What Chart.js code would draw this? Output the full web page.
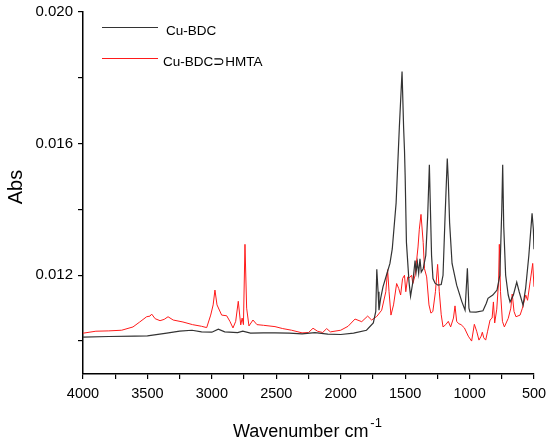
<!DOCTYPE html>
<html>
<head>
<meta charset="utf-8">
<script src="https://cdn.jsdelivr.net/npm/chart.js@4.4.1/dist/chart.umd.min.js"></script>
<style>
  html, body { margin: 0; padding: 0; background: #fff; }
  #wrap { width: 550px; height: 442px; position: relative; }
</style>
</head>
<body>
<div id="wrap"><canvas id="ftir-chart"></canvas></div>
<script>
// Cu-BDC (black)
var bdcWave = [4000, 3800, 3600, 3500, 3350, 3250, 3154, 3080, 3000, 2950, 2900, 2800, 2760, 2700, 2600, 2510,
  2400, 2300, 2200, 2100, 2000, 1900, 1800, 1747, 1728, 1720, 1710, 1703, 1690, 1672, 1645, 1618, 1600, 1570,
  1545, 1524, 1512, 1505, 1500, 1490, 1470, 1458, 1440, 1423, 1415, 1405, 1395, 1385, 1375, 1360, 1340, 1325,
  1312, 1305, 1295, 1284, 1268, 1245, 1220, 1206, 1190, 1173, 1165, 1155, 1136, 1100, 1060, 1035, 1017, 1005,
  997, 950, 896, 870, 857, 820, 787, 765, 750, 743, 735, 720, 700, 686, 660, 634, 615, 585, 565, 540, 515, 505, 500];
var bdcAbs = [0.01012, 0.01014, 0.01015, 0.01016, 0.01024, 0.01030, 0.01033, 0.01028, 0.01027, 0.01036, 0.01028,
  0.01026, 0.01030, 0.01024, 0.01025, 0.01025, 0.01024, 0.01022, 0.01026, 0.01021, 0.01020, 0.01024, 0.01033,
  0.01055, 0.01090, 0.01218, 0.01150, 0.01094, 0.01130, 0.01165, 0.01200, 0.01236, 0.01280, 0.01420, 0.01650,
  0.01819, 0.01650, 0.01579, 0.01503, 0.01300, 0.01180, 0.01136, 0.01180, 0.01245, 0.01210, 0.01240, 0.01206,
  0.01250, 0.01210, 0.01220, 0.01260, 0.01380, 0.01536, 0.01420, 0.01260, 0.01190, 0.01176, 0.01170, 0.01172,
  0.01200, 0.01380, 0.01555, 0.01488, 0.01360, 0.01236, 0.01170, 0.01120, 0.01094, 0.01221, 0.01100, 0.01089,
  0.01088, 0.01092, 0.01115, 0.01130, 0.01140, 0.01155, 0.01200, 0.01400, 0.01536, 0.01350, 0.01200, 0.01140,
  0.01119, 0.01140, 0.01179, 0.01150, 0.01109, 0.01160, 0.01260, 0.01388, 0.01340, 0.01279];

// Cu-BDC⊃HMTA (red)
var hmtaWave = [4000, 3900, 3800, 3700, 3612, 3560, 3506, 3480, 3467, 3440, 3402, 3370, 3340, 3300, 3224, 3150,
  3080, 3040, 3009, 2990, 2976, 2960, 2924, 2885, 2860, 2836, 2815, 2795, 2776, 2765, 2755, 2743, 2730, 2712,
  2681, 2650, 2600, 2510, 2450, 2381, 2300, 2250, 2215, 2180, 2140, 2109, 2080, 2000, 1943, 1889, 1837, 1791,
  1760, 1720, 1682, 1650, 1636, 1625, 1610, 1590, 1566, 1550, 1535, 1520, 1505, 1495, 1480, 1465, 1450, 1440,
  1423, 1400, 1390, 1377, 1360, 1350, 1333, 1315, 1300, 1285, 1265, 1248, 1235, 1220, 1206, 1185, 1165, 1147,
  1125, 1113, 1100, 1085, 1066, 1040, 1010, 984, 963, 945, 927, 910, 901, 890, 875, 860, 841, 825, 815, 805,
  789, 775, 769, 760, 745, 730, 700, 680, 669, 655, 640, 608, 590, 564, 550, 530, 510, 500];
var hmtaAbs = [0.01024, 0.01030, 0.01031, 0.01033, 0.01043, 0.01058, 0.01074, 0.01076, 0.01082, 0.01068, 0.01062,
  0.01066, 0.01074, 0.01064, 0.01058, 0.01050, 0.01045, 0.01041, 0.01079, 0.01110, 0.01155, 0.01110, 0.01079,
  0.01077, 0.01060, 0.01040, 0.01060, 0.01121, 0.01049, 0.01070, 0.01050, 0.01294, 0.01100, 0.01046, 0.01064,
  0.01050, 0.01048, 0.01044, 0.01038, 0.01033, 0.01025, 0.01026, 0.01039, 0.01030, 0.01026, 0.01038, 0.01028,
  0.01033, 0.01045, 0.01067, 0.01059, 0.01076, 0.01064, 0.01075, 0.01094, 0.01150, 0.01217, 0.01150, 0.01079,
  0.01110, 0.01175, 0.01160, 0.01140, 0.01190, 0.01200, 0.01150, 0.01195, 0.01193, 0.01200, 0.01175, 0.01200,
  0.01286, 0.01340, 0.01385, 0.01300, 0.01220, 0.01195, 0.01110, 0.01085, 0.01090, 0.01150, 0.01233, 0.01150,
  0.01080, 0.01043, 0.01050, 0.01060, 0.01043, 0.01070, 0.01107, 0.01060, 0.01053, 0.01050, 0.01040, 0.01015,
  0.01000, 0.01051, 0.01030, 0.01003, 0.01015, 0.01027, 0.01010, 0.01003, 0.01030, 0.01064, 0.01070, 0.01119,
  0.01055, 0.01097, 0.01180, 0.01294, 0.01150, 0.01060, 0.01043, 0.01069, 0.01100, 0.01143, 0.01090, 0.01074,
  0.01079, 0.01100, 0.01140, 0.01124, 0.01180, 0.01236, 0.01165];

var xTicks = [4000, 3750, 3500, 3250, 3000, 2750, 2500, 2250, 2000, 1750, 1500, 1250, 1000, 750, 500];
var yTicks = [0.010, 0.012, 0.014, 0.016, 0.018, 0.020];
var seriesNames = ['Cu-BDC', 'Cu-BDC\u2283HMTA'];
var seriesColors = ['#333333', '#ff1a1a'];

function toPoints(xs, ys) {
  return xs.map(function (x, i) { return { x: x, y: ys[i] }; });
}

var FONT = '"Liberation Sans", Arial, sans-serif';

// legend lines + axis titles drawn inside the canvas
var decorPlugin = {
  id: 'decor',
  afterDraw: function (chart) {
    var ctx = chart.ctx;
    var area = chart.chartArea;
    ctx.save();
    // legend
    for (var i = 0; i < seriesNames.length; i++) {
      var ly = Math.round(area.top) + 15.5 + i * 31;
      ctx.beginPath();
      ctx.strokeStyle = seriesColors[i];
      ctx.lineWidth = 1.2;
      ctx.moveTo(area.left + 19, ly);
      ctx.lineTo(area.left + 75, ly);
      ctx.stroke();
      ctx.fillStyle = '#000';
      ctx.font = '13.5px ' + FONT;
      ctx.textBaseline = 'middle';
      ctx.textAlign = 'left';
      ctx.fillText(seriesNames[i], area.left + (i === 0 ? 83 : 80), ly + 4);
    }
    // y title
    ctx.translate(22, 187);
    ctx.rotate(-Math.PI / 2);
    ctx.font = '20px ' + FONT;
    ctx.textAlign = 'center';
    ctx.textBaseline = 'alphabetic';
    ctx.fillText('Abs', 0, 0);
    ctx.setTransform(1, 0, 0, 1, 0, 0);
    ctx.scale(chart.currentDevicePixelRatio, chart.currentDevicePixelRatio);
    // x title with superscript
    ctx.font = '18px ' + FONT;
    ctx.textAlign = 'left';
    ctx.fillText('Wavenumber cm', 233, 437);
    var w = ctx.measureText('Wavenumber cm').width;
    ctx.font = '13px ' + FONT;
    ctx.fillText('-1', 233 + w + 2, 427);
    ctx.restore();
  }
};

var ctx = document.getElementById('ftir-chart').getContext('2d');
var chart = new Chart(ctx, {
  type: 'line',
  data: {
    datasets: [{
      label: seriesNames[0],
      data: toPoints(bdcWave, bdcAbs),
      borderColor: seriesColors[0],
      borderWidth: 1.2,
      pointRadius: 0,
      tension: 0
    }, {
      label: seriesNames[1],
      data: toPoints(hmtaWave, hmtaAbs),
      borderColor: seriesColors[1],
      borderWidth: 1,
      pointRadius: 0,
      tension: 0
    }]
  },
  options: {
    responsive: true,
    maintainAspectRatio: false,
    animation: false,
    layout: { padding: { top: 12, right: 16, left: 0, bottom: 0 } },
    plugins: { legend: { display: false }, tooltip: { enabled: false } },
    scales: {
      x: {
        type: 'linear',
        reverse: true,
        min: 500,
        max: 4000,
        afterBuildTicks: function (scale) {
          scale.ticks = xTicks.map(function (v) { return { value: v }; });
        },
        afterFit: function (scale) {
          scale.height = 68;
          scale.paddingLeft = 0;
          scale.paddingRight = 0;
        },
        ticks: {
          autoSkip: false,
          maxRotation: 0,
          color: '#000',
          font: { family: FONT, size: 14.5 },
          padding: 6,
          callback: function (v) { return v % 500 === 0 ? String(v) : ''; }
        },
        grid: { drawOnChartArea: false, drawTicks: true, tickLength: 5, color: '#000', lineWidth: 1.2 },
        border: { display: true, color: '#000', width: 1.5 }
      },
      y: {
        min: 0.009,
        max: 0.020,
        afterBuildTicks: function (scale) {
          scale.ticks = yTicks.map(function (v) { return { value: v }; });
        },
        afterFit: function (scale) {
          scale.width = 83;
          scale.paddingTop = 0;
          scale.paddingBottom = 0;
        },
        ticks: {
          color: '#000',
          font: { family: FONT, size: 15 },
          padding: 5,
          callback: function (v) {
            var r = Math.round(v * 1000);
            return (r % 4 === 0) ? v.toFixed(3) : '';
          }
        },
        grid: { drawOnChartArea: false, drawTicks: true, tickLength: 5, color: '#000', lineWidth: 1.2 },
        border: { display: true, color: '#000', width: 1.5 }
      }
    }
  },
  plugins: [decorPlugin]
});
</script>
</body>
</html>
